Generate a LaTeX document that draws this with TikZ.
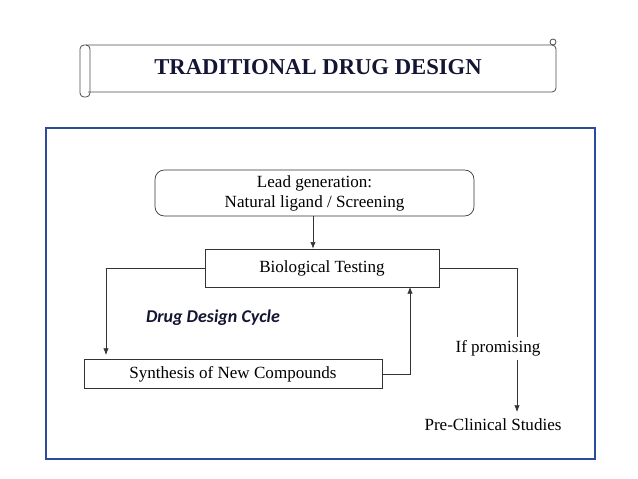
\documentclass[tikz,border=0pt]{standalone}
\usepackage{fontspec}
\setmainfont{Liberation Serif}
\newfontfamily\carl{Carlito}
\usetikzlibrary{arrows.meta}
\definecolor{frameblue}{HTML}{2E4A9B}
\definecolor{titlenavy}{HTML}{141433}
\begin{document}
\begin{tikzpicture}[x=0.75pt,y=-0.75pt,
  box/.style={draw=black!80,line width=0.5pt,inner sep=0pt},
  lbl/.style={font=\fontsize{12.8}{15}\selectfont,align=center},
  conn/.style={line width=0.5pt,draw=black!80},
  arr/.style={conn,-{Latex[length=5pt,width=4pt]}}]
\useasboundingbox (0,0) rectangle (638,478);
% scroll
\draw[line width=0.6pt,black!70,rounded corners=3pt] (86,45) -- (556,45) -- (556,92) -- (88,92);
\draw[line width=0.6pt,black!70,rounded corners=3pt] (80,45) rectangle (90,97);
\draw[line width=0.6pt,black!70] (553,42) circle[radius=3];
\node[font=\fontsize{17}{20}\bfseries\selectfont,text=titlenavy] (title) at (318,67) {TRADITIONAL DRUG DESIGN};
% frame
\draw[frameblue,line width=0.8pt] (46,128) rectangle (595,459);
% nodes
\node[box,rounded corners=7pt,minimum width=319*0.75pt,minimum height=46*0.75pt,lbl] (lead) at (314.5,193) {Lead generation:\\Natural ligand / Screening};
\node[box,minimum width=234*0.75pt,minimum height=38*0.75pt,lbl] (bio) at (322,268) {Biological Testing};
\node[box,minimum width=298*0.75pt,minimum height=29*0.75pt,lbl] (syn) at (233,374) {Synthesis of New Compounds};
\node[lbl] (prom) at (498,348) {If promising};
\node[lbl] (pre) at (493,425) {Pre-Clinical Studies};
\node[font=\carl\fontsize{13.5}{15}\bfseries\itshape\selectfont,text=titlenavy] (cyc) at (213,318) {Drug Design Cycle};
\coordinate (a) at (313,249);
\coordinate (p1) at (517,337);
\coordinate (p2) at (517,360);
\coordinate (pt) at (517,412);
% connectors
\draw[arr] (lead.south -| a) -- (bio.north -| a);
\draw[arr] (bio.west) -| (106,355);
\draw[arr] (syn.east) -| (410,287);
\draw[conn] (bio.east) -| (p1);
\draw[arr] (p2) -- (pt);
\end{tikzpicture}
\end{document}
